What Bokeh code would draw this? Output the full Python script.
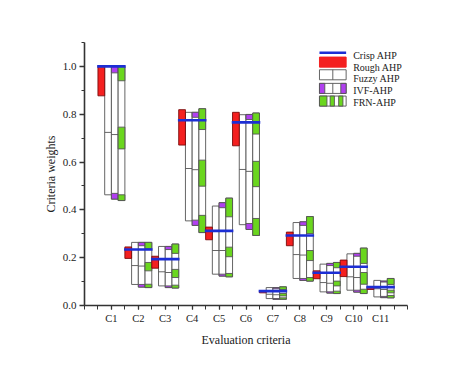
import numpy as np
from bokeh.plotting import figure
from bokeh.models import ColumnDataSource, FixedTicker, PrintfTickFormatter, Label, Range1d
from bokeh.embed import file_html
from bokeh.resources import INLINE

criteria = ["C1", "C2", "C3", "C4", "C5", "C6", "C7", "C8", "C9", "C10", "C11"]
crisp = [1.0, 0.234, 0.194, 0.775, 0.312, 0.766, 0.060, 0.293, 0.137, 0.162, 0.077]
rough_lower = [0.877, 0.197, 0.156, 0.671, 0.275, 0.668, 0.053, 0.250, 0.112, 0.121, 0.067]
rough_upper = [1.0, 0.245, 0.206, 0.819, 0.328, 0.808, 0.061, 0.307, 0.145, 0.190, 0.078]
fuzzy_l = [0.463, 0.088, 0.082, 0.354, 0.131, 0.338, 0.029, 0.113, 0.057, 0.064, 0.036]
fuzzy_m = [0.724, 0.167, 0.141, 0.573, 0.230, 0.569, 0.047, 0.213, 0.096, 0.120, 0.070]
fuzzy_u = [1.0, 0.264, 0.247, 0.808, 0.416, 0.798, 0.075, 0.347, 0.173, 0.216, 0.105]
ivf_l1 = [0.445, 0.077, 0.075, 0.335, 0.123, 0.318, 0.026, 0.105, 0.052, 0.056, 0.033]
ivf_l2 = [0.469, 0.088, 0.082, 0.357, 0.131, 0.343, 0.029, 0.113, 0.057, 0.064, 0.038]
ivf_m = [0.715, 0.165, 0.138, 0.568, 0.230, 0.561, 0.045, 0.211, 0.093, 0.117, 0.067]
ivf_u1 = [0.973, 0.250, 0.234, 0.787, 0.409, 0.778, 0.070, 0.335, 0.167, 0.206, 0.098]
ivf_u2 = [1.0, 0.264, 0.247, 0.808, 0.430, 0.799, 0.075, 0.350, 0.176, 0.218, 0.102]
frn_l1 = [0.439, 0.075, 0.073, 0.305, 0.120, 0.293, 0.026, 0.102, 0.050, 0.050, 0.032]
frn_l2 = [0.463, 0.089, 0.085, 0.377, 0.134, 0.364, 0.032, 0.117, 0.060, 0.068, 0.042]
frn_m1 = [0.655, 0.145, 0.117, 0.499, 0.204, 0.497, 0.040, 0.188, 0.082, 0.089, 0.053]
frn_m2 = [0.746, 0.180, 0.151, 0.608, 0.244, 0.603, 0.050, 0.230, 0.102, 0.138, 0.064]
frn_u1 = [0.940, 0.238, 0.218, 0.736, 0.371, 0.717, 0.067, 0.301, 0.158, 0.176, 0.088]
frn_u2 = [1.0, 0.264, 0.257, 0.823, 0.449, 0.805, 0.078, 0.372, 0.180, 0.240, 0.113]

y_ticks = [0.0, 0.2, 0.4, 0.6, 0.8, 1.0]
legend_labels = ["Crisp AHP", "Rough AHP", "Fuzzy AHP", "IVF-AHP", "FRN-AHP"]

RED = "#f42020"
RED_EDGE = "#7a0a0a"
PURPLE = "#b13ff0"
GREEN = "#6ad61e"
BLUE = "#1c2ed4"
EDGE = "#555555"
SERIF = "Liberation Serif"

xs = np.arange(1, len(criteria) + 1, dtype=float)
W = 0.25

p = figure(frame_width=323, frame_height=263, min_border_left=84, min_border_right=51,
           min_border_top=42, min_border_bottom=45,
           x_range=Range1d(0, 12), y_range=Range1d(0, 1.1),
           output_backend="svg", toolbar_location=None)
p.outline_line_color = None
p.xgrid.visible = False
p.ygrid.visible = False
p.background_fill_color = "white"

# Fuzzy AHP boxes
src_f = ColumnDataSource(dict(l=xs - W, r=xs, b=fuzzy_l, t=fuzzy_u, m=fuzzy_m))
p.quad(left="l", right="r", bottom="b", top="t", source=src_f,
       fill_color="white", line_color=EDGE, line_width=0.9)
p.segment(x0="l", x1="r", y0="m", y1="m", source=src_f, line_color=EDGE, line_width=0.9)

# IVF-AHP boxes
src_i = ColumnDataSource(dict(l=xs, r=xs + W, l1=ivf_l1, l2=ivf_l2, m=ivf_m, u1=ivf_u1, u2=ivf_u2))
p.quad(left="l", right="r", bottom="l1", top="u2", source=src_i,
       fill_color="white", line_color=EDGE, line_width=0.9)
p.quad(left="l", right="r", bottom="l1", top="l2", source=src_i,
       fill_color=PURPLE, line_color=EDGE, line_width=0.9)
p.quad(left="l", right="r", bottom="u1", top="u2", source=src_i,
       fill_color=PURPLE, line_color=EDGE, line_width=0.9)
p.segment(x0="l", x1="r", y0="m", y1="m", source=src_i, line_color=EDGE, line_width=0.9)

# FRN-AHP boxes
src_n = ColumnDataSource(dict(l=xs + W, r=xs + 2 * W, l1=frn_l1, l2=frn_l2, m1=frn_m1,
                              m2=frn_m2, u1=frn_u1, u2=frn_u2))
p.quad(left="l", right="r", bottom="l1", top="u2", source=src_n,
       fill_color="white", line_color=EDGE, line_width=0.9)
for b, t in (("l1", "l2"), ("m1", "m2"), ("u1", "u2")):
    p.quad(left="l", right="r", bottom=b, top=t, source=src_n,
           fill_color=GREEN, line_color=EDGE, line_width=0.9)

# Rough AHP bars
src_r = ColumnDataSource(dict(l=xs - 2 * W, r=xs - W, b=rough_lower, t=rough_upper))
p.quad(left="l", right="r", bottom="b", top="t", source=src_r,
       fill_color=RED, line_color=RED_EDGE, line_width=0.9)

# Crisp AHP lines
src_c = ColumnDataSource(dict(x0=xs - 0.53, x1=xs + 0.53, y=crisp))
p.segment(x0="x0", x1="x1", y0="y", y1="y", source=src_c, line_color=BLUE, line_width=2.6)

# Legend (drawn manually)
lx0, lx1 = 8.73, 9.72
ltx = 9.98
row_y = [1.057, 1.018, 0.965, 0.908, 0.855]
text_y = [1.047, 0.997, 0.948, 0.899, 0.848]
ph = 0.042
lw = lx1 - lx0
p.segment(x0=[lx0], x1=[lx1], y0=[row_y[0]], y1=[row_y[0]], line_color=BLUE, line_width=2.6)
p.quad(left=[lx0], right=[lx1], bottom=[row_y[1] - ph / 2], top=[row_y[1] + ph / 2],
       fill_color=RED, line_color=RED)
p.quad(left=[lx0], right=[lx1], bottom=[row_y[2] - ph / 2], top=[row_y[2] + ph / 2],
       fill_color="white", line_color=EDGE, line_width=0.9)
p.segment(x0=[lx0 + lw / 2], x1=[lx0 + lw / 2], y0=[row_y[2] - ph / 2], y1=[row_y[2] + ph / 2],
          line_color=EDGE, line_width=0.9)
p.quad(left=[lx0], right=[lx1], bottom=[row_y[3] - ph / 2], top=[row_y[3] + ph / 2],
       fill_color="white", line_color=EDGE, line_width=0.9)
p.quad(left=[lx0, lx1 - lw * 0.2], right=[lx0 + lw * 0.2, lx1],
       bottom=[row_y[3] - ph / 2] * 2, top=[row_y[3] + ph / 2] * 2,
       fill_color=PURPLE, line_color=EDGE, line_width=0.9)
p.segment(x0=[lx0 + lw / 2], x1=[lx0 + lw / 2], y0=[row_y[3] - ph / 2], y1=[row_y[3] + ph / 2],
          line_color=EDGE, line_width=0.9)
p.quad(left=[lx0], right=[lx1], bottom=[row_y[4] - ph / 2], top=[row_y[4] + ph / 2],
       fill_color="white", line_color=EDGE, line_width=0.9)
p.quad(left=[lx0, lx0 + lw * 0.4, lx0 + lw * 0.72], right=[lx0 + lw * 0.28, lx0 + lw * 0.56, lx0 + lw * 0.88],
       bottom=[row_y[4] - ph / 2] * 3, top=[row_y[4] + ph / 2] * 3,
       fill_color=GREEN, line_color=EDGE, line_width=0.9)
for lab, yy in zip(legend_labels, text_y):
    p.add_layout(Label(x=ltx, y=yy, text=lab, text_font=SERIF, text_font_size="10px",
                       text_baseline="middle", text_color="#222222"))

# Axes
xax = p.xaxis[0]
xax.ticker = FixedTicker(ticks=list(xs), minor_ticks=list(np.arange(0, 12.01, 0.5)))
xax.major_label_overrides = {float(x): c for x, c in zip(xs, criteria)}
xax.major_label_overrides.update({int(x): c for x, c in zip(xs, criteria)})
yax = p.yaxis[0]
yax.ticker = FixedTicker(ticks=y_ticks, minor_ticks=list(np.round(np.arange(0, 1.11, 0.1), 2)))
yax.formatter = PrintfTickFormatter(format="%.1f")
for ax in (xax, yax):
    ax.axis_line_color = "#333333"
    ax.axis_line_width = 1.6
    ax.major_tick_line_color = "#333333"
    ax.minor_tick_line_color = "#333333"
    ax.major_tick_line_width = 1.3
    ax.minor_tick_line_width = 1.0
    ax.major_tick_in = 0
    ax.minor_tick_in = 0
    ax.major_tick_out = 5
    ax.minor_tick_out = 3
    ax.major_label_text_font = SERIF
    ax.major_label_text_color = "#222222"
    ax.axis_label_text_font = SERIF
    ax.axis_label_text_font_size = "12px"
    ax.axis_label_text_font_style = "normal"
    ax.axis_label_text_color = "#222222"
xax.major_label_text_font_size = "10.5px"
yax.major_label_text_font_size = "11px"
xax.minor_tick_out = 4
xax.major_tick_out = 4
xax.major_label_standoff = 3
xax.axis_label = "Evaluation criteria"
xax.axis_label_standoff = 6
yax.axis_label = "Criteria weights"
yax.major_label_standoff = 3
yax.axis_label_standoff = 2

open("out.html", "w").write(file_html(p, INLINE))
